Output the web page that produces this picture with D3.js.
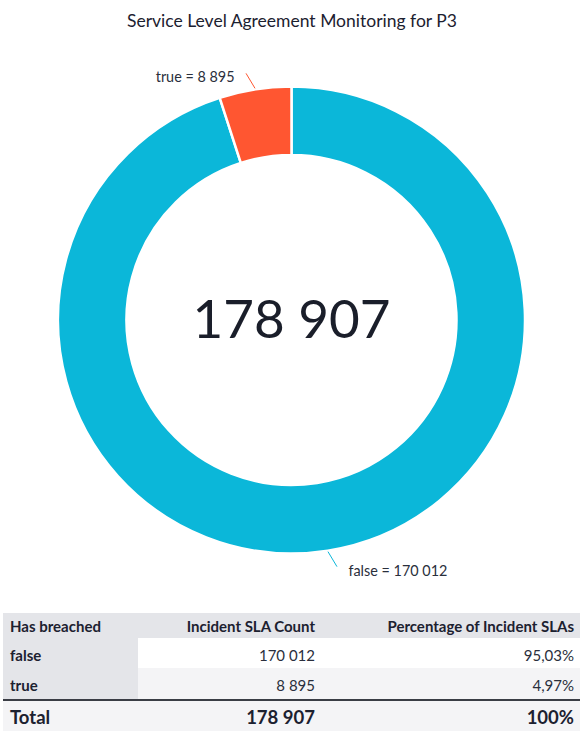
<!DOCTYPE html>
<html>
<head>
<meta charset="utf-8">
<script src="https://cdn.jsdelivr.net/npm/d3@7"></script>
<style>
  html, body { margin: 0; padding: 0; background: #fff; }
  svg { display: block; font-family: Lato, "Noto Sans", sans-serif; }
</style>
</head>
<body>
<svg id="chart" width="582" height="731"></svg>
<script>
const title = "Service Level Agreement Monitoring for P3";
const categories = ["false", "true"];
const counts = [170012, 8895];
const colors = ["#0bb7d9", "#ff5631"];
const columns = ["Has breached", "Incident SLA Count", "Percentage of Incident SLAs"];
const totalLabel = "Total";

const locale = d3.formatLocale({decimal: ",", thousands: " ", grouping: [3], currency: ["", ""]});
const fmtNum = locale.format(",d");
const fmtPct = locale.format(".2%");
const total = d3.sum(counts);

const svg = d3.select("#chart");
const textColor = "#1c2130";

// Title
svg.append("text")
  .attr("x", 292).attr("y", 27)
  .attr("text-anchor", "middle")
  .attr("font-size", 17.5)
  .attr("fill", textColor)
  .text(title);

// Donut
const cx = 291.5, cy = 320, rOuter = 233.5, rInner = 165;
const g = svg.append("g").attr("transform", `translate(${cx},${cy})`);
const pie = d3.pie().sort(null).value(d => d.value).startAngle(0).endAngle(2 * Math.PI);
const data = categories.map((c, i) => ({name: c, value: counts[i], color: colors[i]}));
const arcs = pie(data);
const arc = d3.arc().innerRadius(rInner).outerRadius(rOuter);

g.selectAll("path.slice").data(arcs).join("path")
  .attr("class", "slice")
  .attr("d", arc)
  .attr("fill", d => d.data.color)
  .attr("stroke", "#fff")
  .attr("stroke-width", 2.5)
  .attr("stroke-linejoin", "round");

// Labels with connectors
arcs.forEach(a => {
  const mid = (a.startAngle + a.endAngle) / 2;
  const sx = Math.sin(mid), sy = -Math.cos(mid);
  const x0 = sx * (rOuter + 1), y0 = sy * (rOuter + 1);
  const hx = sx >= 0 ? 1 : -1, vy = sy >= 0 ? 1 : -1;
  const x1 = x0 + hx * 9, y1 = y0 + vy * 15;
  g.append("line")
    .attr("x1", x0).attr("y1", y0).attr("x2", x1).attr("y2", y1)
    .attr("stroke", a.data.color).attr("stroke-width", 1);
  g.append("text")
    .attr("x", x1 + hx * 11.5)
    .attr("y", y1 + 4)
    .attr("dy", "0.35em")
    .attr("text-anchor", hx > 0 ? "start" : "end")
    .attr("font-size", 14.4)
    .attr("fill", "#2a2f3c")
    .text(`${a.data.name} = ${fmtNum(a.data.value)}`);
});

// Center total
g.append("text")
  .attr("x", 0).attr("y", 18)
  .attr("text-anchor", "middle")
  .attr("font-size", 53)
  .attr("font-weight", 400)
  .attr("fill", "#1a1e2a")
  .text(fmtNum(total));

// Table
const tX0 = 3, tX1 = 580, col1 = 138;
const headerY = 613, rowH = [25, 30, 31], lineY = 700;
const hdrBg = "#e4e5e9", altBg = "#f4f4f6";
const colRight = [null, 315, 574];

const t = svg.append("g");
t.append("rect").attr("x", tX0).attr("y", headerY).attr("width", tX1 - tX0).attr("height", rowH[0]).attr("fill", hdrBg);
let y = headerY + rowH[0];
categories.forEach((c, i) => {
  const h = rowH[i + 1];
  t.append("rect").attr("x", col1).attr("y", y).attr("width", tX1 - col1).attr("height", h)
    .attr("fill", i % 2 === 0 ? "#ffffff" : altBg);
  t.append("rect").attr("x", tX0).attr("y", y).attr("width", col1 - tX0).attr("height", h).attr("fill", hdrBg);
  y += h;
});
t.append("rect").attr("x", tX0).attr("y", lineY).attr("width", tX1 - tX0).attr("height", 731 - lineY).attr("fill", altBg);
t.append("line").attr("x1", tX0).attr("x2", tX1).attr("y1", lineY).attr("y2", lineY)
  .attr("stroke", "#3a3d45").attr("stroke-width", 2);

const hdrBase = 632, fs = 15;
t.append("text").attr("x", 10).attr("y", hdrBase).attr("font-size", fs).attr("font-weight", 700).attr("fill", textColor).text(columns[0]);
t.append("text").attr("x", colRight[1]).attr("y", hdrBase).attr("text-anchor", "end").attr("font-size", fs).attr("font-weight", 700).attr("fill", textColor).text(columns[1]);
t.append("text").attr("x", colRight[2]).attr("y", hdrBase).attr("text-anchor", "end").attr("font-size", fs).attr("font-weight", 700).attr("fill", textColor).text(columns[2]);

const bases = [661, 691];
categories.forEach((c, i) => {
  t.append("text").attr("x", 10).attr("y", bases[i]).attr("font-size", fs).attr("font-weight", 700).attr("fill", textColor).text(c);
  t.append("text").attr("x", colRight[1]).attr("y", bases[i]).attr("text-anchor", "end").attr("font-size", fs).attr("fill", "#2a2f3c").text(fmtNum(counts[i]));
  t.append("text").attr("x", colRight[2]).attr("y", bases[i]).attr("text-anchor", "end").attr("font-size", fs).attr("fill", "#2a2f3c").text(fmtPct(counts[i] / total));
});

const totBase = 724, tfs = 18.5;
t.append("text").attr("x", 10).attr("y", totBase).attr("font-size", tfs).attr("font-weight", 700).attr("fill", textColor).text(totalLabel);
t.append("text").attr("x", colRight[1]).attr("y", totBase).attr("text-anchor", "end").attr("font-size", tfs).attr("font-weight", 700).attr("fill", textColor).text(fmtNum(total));
t.append("text").attr("x", colRight[2]).attr("y", totBase).attr("text-anchor", "end").attr("font-size", tfs).attr("font-weight", 700).attr("fill", textColor).text(d3.format(".0%")(1));
</script>
</body>
</html>
